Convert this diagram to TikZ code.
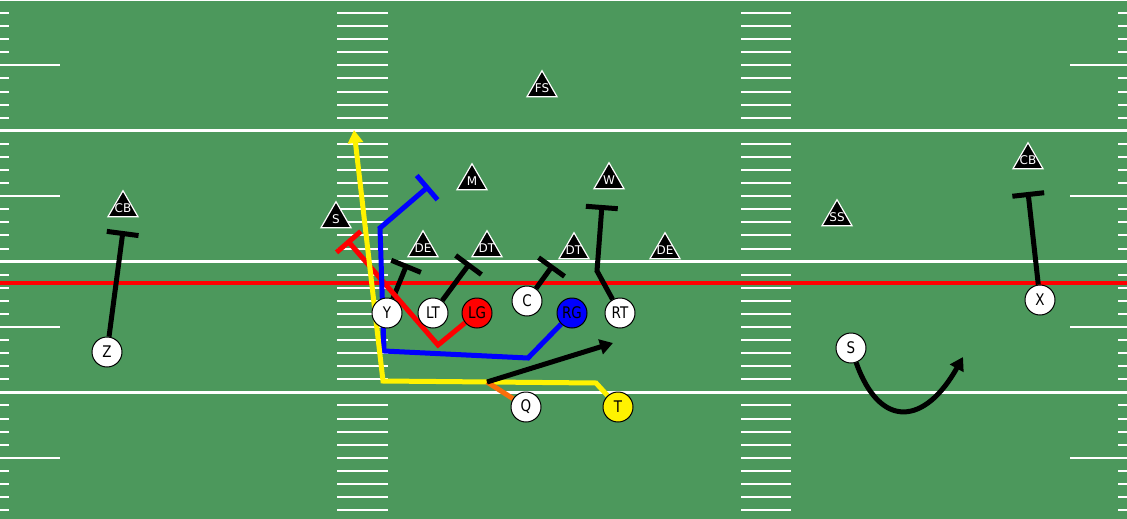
\documentclass[tikz,border=0pt]{standalone}
\usepackage{fontspec}
\setmainfont{DejaVu Sans}
\newfontfamily\fontejog{DejaVu Sans}[FakeStretch=0.84]
\usepackage{tikz}
\usetikzlibrary{shapes.geometric, arrows.meta}
\definecolor{grama}{RGB}{76,152,92}
\definecolor{laranja}{RGB}{250,110,10}
\pgfdeclarelayer{campo}
\pgfdeclarelayer{rotas}
\pgfsetlayers{campo,rotas,main}

\begin{document}
\begin{tikzpicture}[x=1pt, y=-1pt,
  jogador/.style={circle, draw=black, line width=1pt, fill=white, minimum size=30pt, inner sep=0pt, font=\fontejog\fontsize{16}{16}\selectfont},
  defesa/.style={regular polygon, regular polygon sides=3, minimum size=34.6pt, inner sep=0pt, fill=black, draw=white, line width=1.2pt,
    label={[text=white, inner sep=0pt, font=\fontsize{12}{12}\selectfont]center:#1}},
  rota/.style={line width=5pt},
  bloqueio/.style={rota, -{Bar[width=32pt]}},
  seta/.style={rota, -{Triangle[length=13pt, width=15pt]}},
  jarda/.style={white, line width=3pt},
  marca/.style={white, line width=2pt}]
  \useasboundingbox (0,0) rectangle (1127,519);

  % Campo
  \begin{pgfonlayer}{campo}
    \fill[grama] (0,0) rectangle (1127,519);
    \foreach \k in {0,...,3}
      \draw[jarda] (0,\k*130.8) -- (1127,\k*130.8);
    \foreach \i in {1,...,39}{
      \pgfmathtruncatemacro{\r}{mod(\i,10)}
      \ifnum\r=0\else
        \pgfmathsetmacro{\yy}{\i*13.08}
        \draw[marca] (337,\yy) -- (388,\yy) (741,\yy) -- (791,\yy);
        \ifnum\r=5
          \draw[marca] (0,\yy) -- (60,\yy) (1070,\yy) -- (1127,\yy);
        \else
          \draw[marca] (0,\yy) -- (9,\yy) (1118,\yy) -- (1127,\yy);
        \fi
      \fi
    }
    % Linha de scrimmage
    \draw[red, line width=4pt] (0,283) -- (1127,283);
  \end{pgfonlayer}

  % Ataque
  \node[jogador] (z) at (107,352) {Z};
  \node[jogador] (y) at (387,313) {Y};
  \node[jogador] (lt) at (433,313) {LT};
  \node[jogador, fill=red] (lg) at (477,313) {LG};
  \node[jogador] (c) at (527,301) {C};
  \node[jogador, fill=blue] (rg) at (572,313) {RG};
  \node[jogador] (rt) at (620,313) {RT};
  \node[jogador] (q) at (526,407) {Q};
  \node[jogador, fill=yellow] (t) at (618,407) {T};
  \node[jogador] (s) at (851,348) {S};
  \node[jogador] (x) at (1040,300) {X};

  % Defesa
  \node[defesa=FS] (fs) at (542,88) {};
  \node[defesa=M] (m) at (472,181) {};
  \node[defesa=W] (w) at (609,180) {};
  \node[defesa=S] (sd) at (336,219) {};
  \node[defesa=CB] (cbe) at (123,208) {};
  \node[defesa=CB] (cbd) at (1028,160) {};
  \node[defesa=DE] (dee) at (423,248) {};
  \node[defesa=DT] (dte) at (487,248) {};
  \node[defesa=DT] (dtd) at (574,250) {};
  \node[defesa=DE] (ded) at (665,250) {};
  \node[defesa=SS] (ss) at (837,217) {};

  % Rotas e bloqueios
  \begin{pgfonlayer}{rotas}
    \draw[bloqueio] (z) -- (123,231);
    \draw[bloqueio] (x) -- (1028,192);
    \draw[bloqueio] (y) -- (407,264);
    \draw[bloqueio] (lt) -- (470,263);
    \draw[bloqueio] (c) -- (553,265);
    \draw[bloqueio] (rt) -- (597,271) -- (602,205);
    \draw[bloqueio, red] (lg) -- (438,345) -- (347,240);
    \draw[bloqueio, blue] (rg) -- (528,358) -- (384,351) -- (380,228) -- (429,186);
    \draw[seta, yellow] (t) -- (596,383) -- (383,381) -- (354,130);
    \coordinate (mesh) at (487,382);
    \draw[rota, laranja] (q) -- (mesh);
    \draw[seta] (mesh) -- (613,343);
    \draw[seta] (s) .. controls (880,430) and (925,425) .. (963,357);
  \end{pgfonlayer}
\end{tikzpicture}
\end{document}
